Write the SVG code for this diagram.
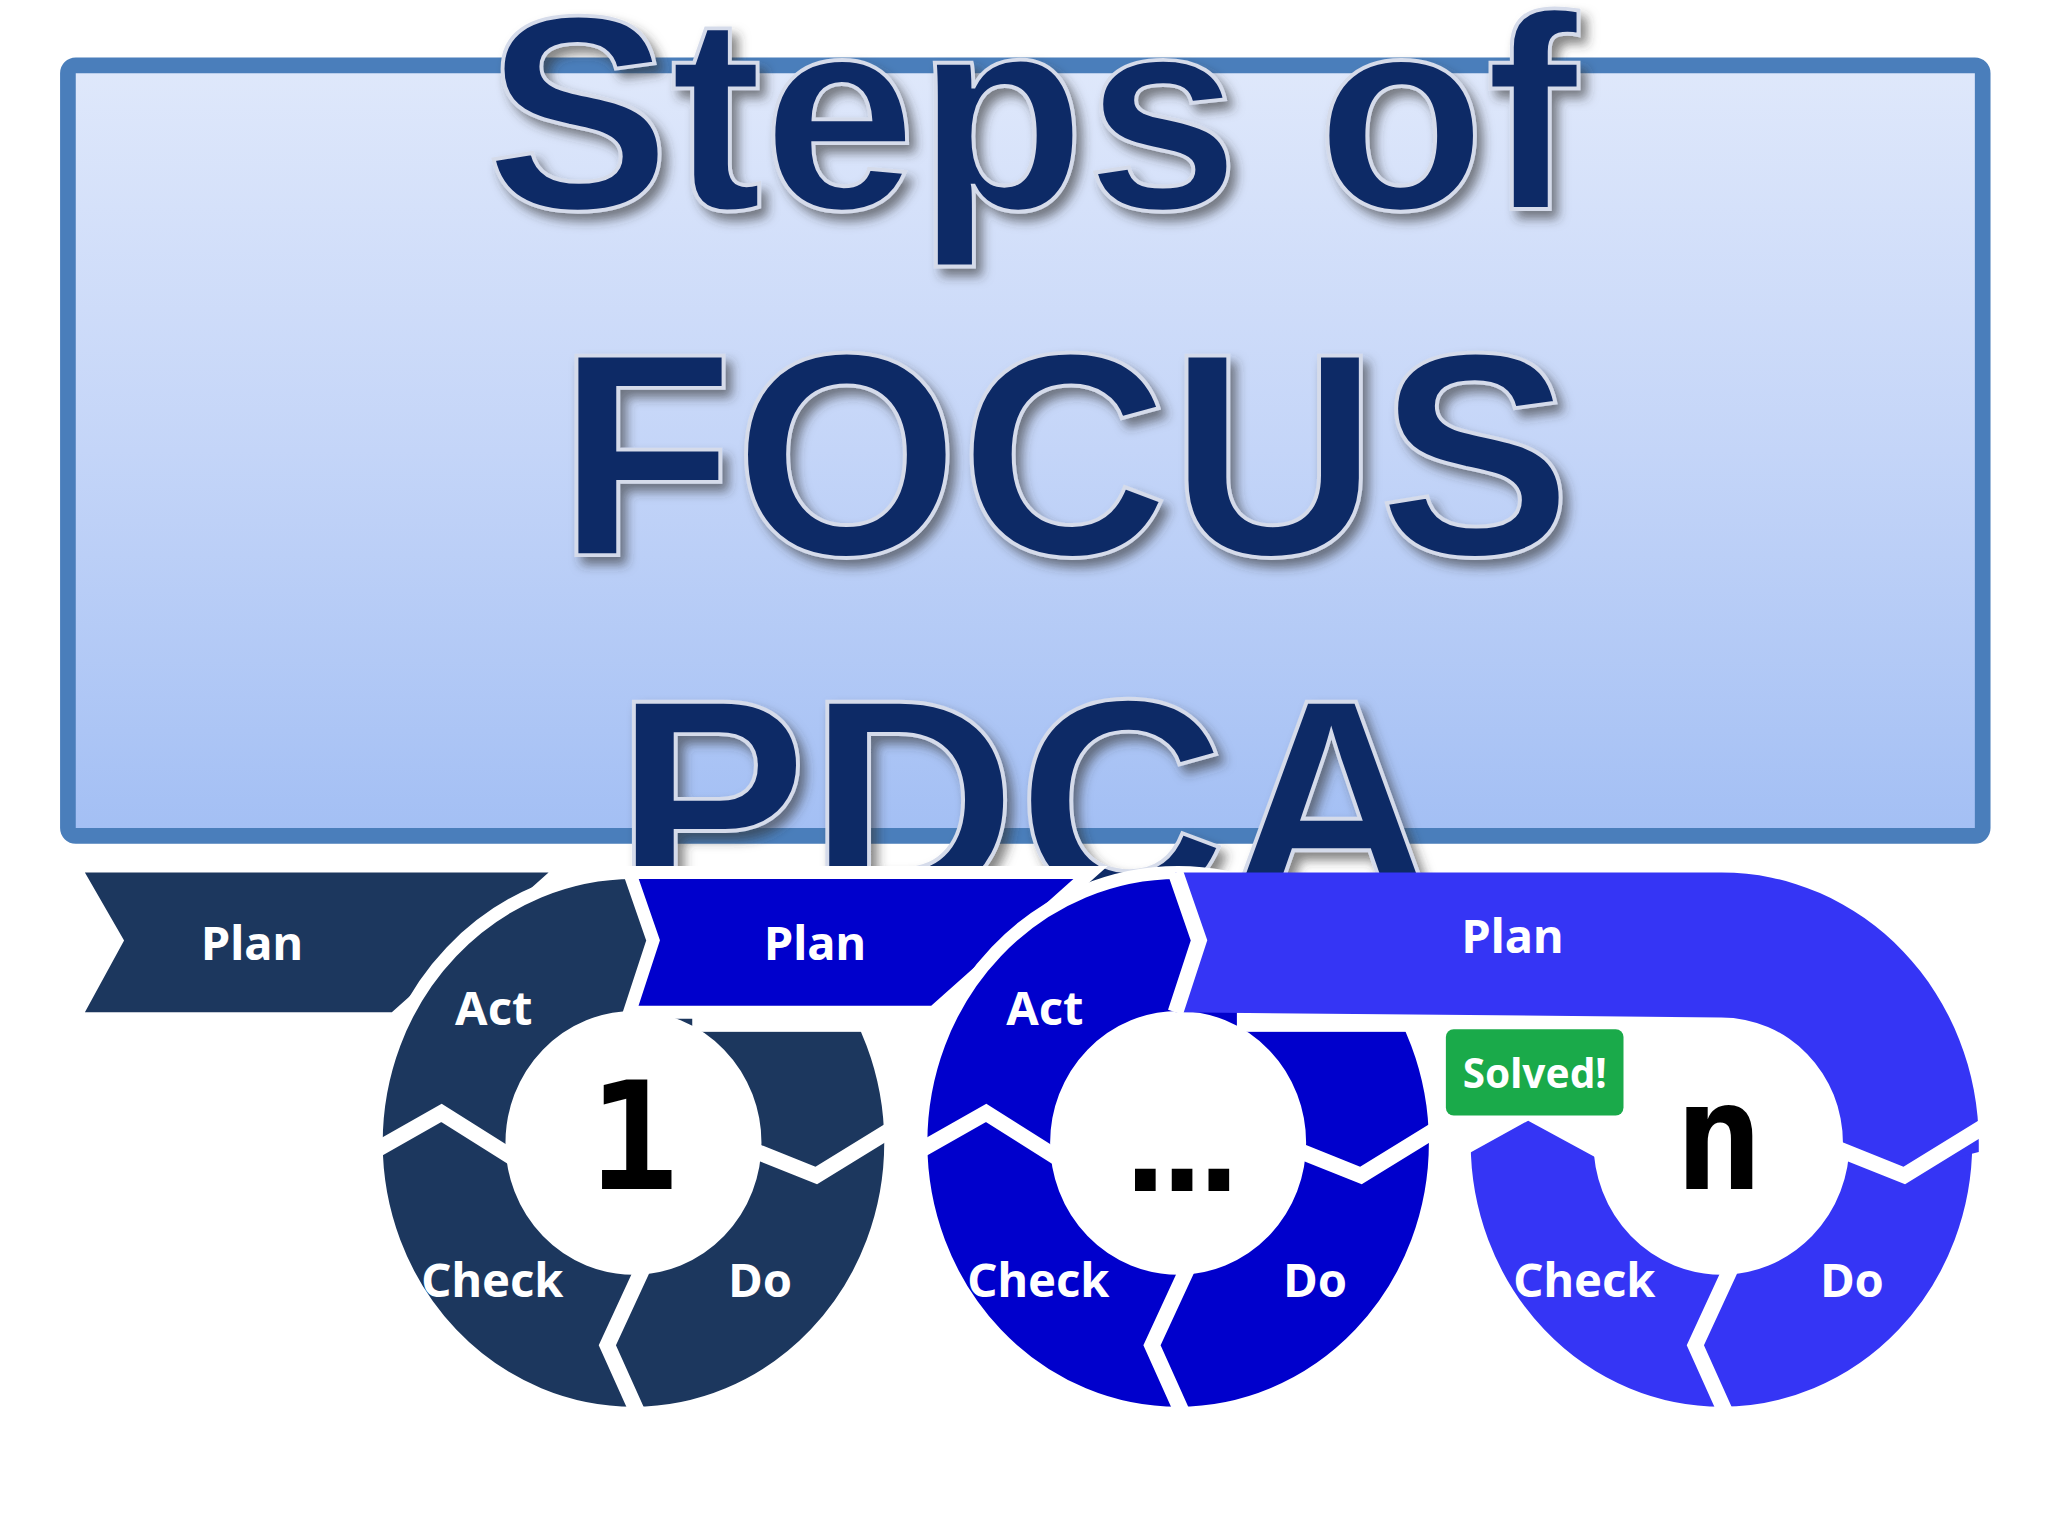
<svg xmlns="http://www.w3.org/2000/svg" width="2048" height="1536" viewBox="0 0 2048 1536">
<defs>
<linearGradient id="bg" x1="0" y1="0" x2="0" y2="1"><stop offset="0" stop-color="#dfe8fb"/><stop offset="0.5" stop-color="#c4d5f8"/><stop offset="1" stop-color="#a3bff4"/></linearGradient>
<filter id="sh" x="-10%" y="-10%" width="130%" height="130%"><feDropShadow dx="5" dy="6" stdDeviation="4" flood-color="#333" flood-opacity="0.6"/></filter>
<style>
.t{font-family:"Liberation Sans",Arial,sans-serif;font-weight:bold;fill:#0f2a66;stroke:#d5dbea;stroke-width:3;text-anchor:middle;filter:url(#sh)}
.l{font-family:"Noto Sans","Open Sans",sans-serif;font-weight:bold;font-size:36px;fill:#fff;text-anchor:middle}
.n{font-family:"DejaVu Sans Mono","Liberation Mono",monospace;font-weight:bold;font-size:115px;fill:#000;text-anchor:middle}
.sep{fill:none;stroke:#fff;stroke-width:12;stroke-linejoin:miter}
.w{stroke:#fff;stroke-width:10}
</style>
</defs>
<rect width="2048" height="1536" fill="#fff"/>
<g transform="scale(1.30612)">
<g id="title">
<rect x="52" y="50" width="1466" height="590" rx="6" fill="url(#bg)" stroke="#4a7ebb" stroke-width="12"/>
<text class="t" x="790" y="160" font-size="212">Steps of</text>
<text class="t" x="815" y="425" font-size="222">FOCUS</text>
<text class="t" x="785" y="690" font-size="222">PDCA</text>
</g>
<g id="cycle1">
<polygon points="65,668 420,668 300,775 65,775 95,720" fill="#1c375e"/>
<path d="M288,875 a197,207 0 1,0 394,0 a197,207 0 1,0 -394,0 Z M392,875 a93,96 0 1,0 186,0 a93,96 0 1,0 -186,0 Z" fill="#1c375e" fill-rule="evenodd" class="w"/>
<rect x="530" y="775" width="170" height="15" fill="#fff"/>
<polyline class="sep" points="280,885 338,852 395,888"/>
<polyline class="sep" points="575,880 625,900 690,860"/>
<polyline class="sep" points="495,965 465,1030 492,1090"/>
</g>
<g id="cycle2">
<polygon points="482,668 835,668 715,775 482,775 500,720" fill="#0000cc" class="w"/>
<path d="M705,875 a197,207 0 1,0 394,0 a197,207 0 1,0 -394,0 Z M809,875 a93,96 0 1,0 186,0 a93,96 0 1,0 -186,0 Z" fill="#0000cc" fill-rule="evenodd" class="w"/>
<rect x="947" y="775" width="170" height="15" fill="#fff"/>
<polyline class="sep" points="697,885 755,852 812,888"/>
<polyline class="sep" points="992,880 1042,900 1107,860"/>
<polyline class="sep" points="912,965 882,1030 909,1090"/>
</g>
<g id="cycle3">
<path d="M1121,875 a197,207 0 1,0 394,0 a197,207 0 1,0 -394,0 Z M1225,875 a93,96 0 1,0 186,0 a93,96 0 1,0 -186,0 Z" fill="#3535f5" fill-rule="evenodd" class="w"/>
<polygon points="1100,650 1320,650 1320,880 1225,888 1170,858 1112,890" fill="#fff"/>
<path d="M900,668 L1318,668 A197,207 0 0,1 1515,875 L1515,882 L1460,896 L1410,882 L1411,875 A93,96 0 0,0 1318,779 L900,775 L918,720 Z" fill="#3535f5"/>
<polyline class="sep" points="900,668 918,720 900,775"/>
<polyline class="sep" points="1408,880 1458,900 1523,860"/>
<polyline class="sep" points="1328,965 1298,1030 1325,1090"/>
<rect x="1107" y="788" width="136" height="66" rx="6" fill="#1aaa4a"/>
<text class="l" x="1175" y="833" style="font-size:31px">Solved!</text>
</g>
<g id="labels">
<text class="l" x="193" y="735">Plan</text>
<text class="l" x="378" y="785">Act</text>
<text class="l" x="377" y="993">Check</text>
<text class="l" x="582" y="993">Do</text>
<text class="l" x="624" y="735">Plan</text>
<text class="l" x="800" y="785">Act</text>
<text class="l" x="795" y="993">Check</text>
<text class="l" x="1007" y="993">Do</text>
<text class="l" x="1158" y="730">Plan</text>
<text class="l" x="1213" y="993">Check</text>
<text class="l" x="1418" y="993">Do</text>
<text class="n" x="485" y="910">1</text>
<text class="n" x="902" y="912" style="font-family:'DejaVu Sans',sans-serif;font-size:90px;letter-spacing:-6px">...</text>
<text class="n" x="1316" y="910">n</text>
</g>
<g id="connectors"/>
</g>
</svg>
